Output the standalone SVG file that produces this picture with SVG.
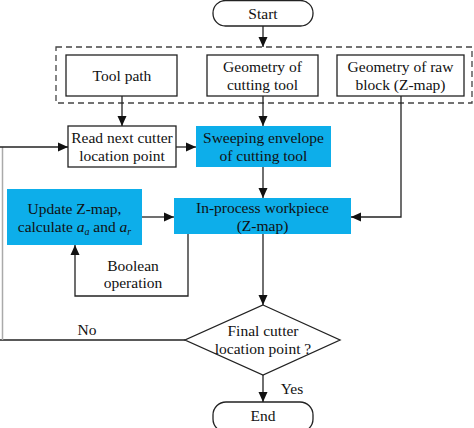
<svg xmlns="http://www.w3.org/2000/svg" width="474" height="428" viewBox="0 0 474 428" font-family="'Liberation Serif', 'DejaVu Serif', serif">
<style>
text{font-family:'Liberation Serif','DejaVu Serif',serif;font-size:15.5px;fill:#111;text-anchor:middle}
.box{fill:#fff;stroke:#222;stroke-width:1.3}
.blue{fill:#0DAEEA;stroke:none}
.ln{fill:none;stroke:#222;stroke-width:1.3}
.gray{fill:none;stroke:#aaa;stroke-width:1.5}
</style>
<defs>
<marker id="ah" viewBox="0 0 10 10" refX="10" refY="5" markerWidth="10" markerHeight="10" markerUnits="userSpaceOnUse" orient="auto">
<path d="M0,0.5 L10,5 L0,9.5 Z" fill="#111"/>
</marker>
</defs>
<rect width="474" height="428" fill="#fff"/>
<g id="inputs">
<rect x="56" y="47" width="416" height="56" fill="none" stroke="#444" stroke-width="1.3" stroke-dasharray="6,4"/>
</g>
<g id="start"><rect class="box" x="213" y="0.5" width="100" height="25.5" rx="12.5"/><text x="263" y="19">Start</text></g>
<g id="toolpath"><rect class="box" x="66" y="55" width="111" height="41"/><text x="122" y="81">Tool path</text></g>
<g id="cuttool"><rect class="box" x="207" y="55" width="111" height="41"/><text x="262.5" y="72">Geometry of</text><text x="262.5" y="90">cutting tool</text></g>
<g id="rawblock"><rect class="box" x="337" y="55" width="127" height="41"/><text x="400.5" y="72">Geometry of raw</text><text x="400.5" y="90">block (Z-map)</text></g>
<g id="readnext"><rect class="box" x="68" y="126" width="108" height="41"/><text x="122" y="143">Read next cutter</text><text x="122" y="161">location point</text></g>
<g id="sweep"><rect class="blue" x="196" y="126" width="135" height="41"/><text x="263.5" y="143">Sweeping envelope</text><text x="263.5" y="161">of cutting tool</text></g>
<g id="update"><rect class="blue" x="7" y="189" width="135" height="56"/><text x="74.5" y="214">Update Z-map,</text><text x="74.5" y="232">calculate <tspan font-style="italic">a</tspan><tspan font-style="italic" font-size="10" dy="3">a</tspan><tspan dy="-3"> and </tspan><tspan font-style="italic">a</tspan><tspan font-style="italic" font-size="10" dy="3">r</tspan></text></g>
<g id="inprocess"><rect class="blue" x="174" y="198" width="177" height="36"/><text x="262.5" y="213">In-process workpiece</text><text x="262.5" y="231">(Z-map)</text></g>
<g id="decision"><polygon class="box" points="263,305 340,340 263,375 185,340"/><text x="263" y="336">Final cutter</text><text x="263" y="354">location point ?</text></g>
<g id="end"><rect class="box" x="213" y="402" width="100" height="30" rx="13"/><text x="263" y="421">End</text></g>
<g id="connectors">
<line class="ln" x1="263" y1="26" x2="263" y2="47" marker-end="url(#ah)"/>
<line class="ln" x1="122" y1="96" x2="122" y2="126" marker-end="url(#ah)"/>
<line class="ln" x1="263" y1="96" x2="263" y2="126" marker-end="url(#ah)"/>
<polyline class="ln" points="401,96 401,217 351,217" marker-end="url(#ah)"/>
<line class="ln" x1="176" y1="147" x2="196" y2="147" marker-end="url(#ah)"/>
<line class="ln" x1="263" y1="167" x2="263" y2="198" marker-end="url(#ah)"/>
<line class="ln" x1="142" y1="217" x2="174" y2="217" marker-end="url(#ah)"/>
<polyline class="ln" points="188,234 188,296 75,296 75,245" marker-end="url(#ah)"/>
<line class="ln" x1="263" y1="234" x2="263" y2="305" marker-end="url(#ah)"/>
<line class="ln" x1="185" y1="340" x2="0" y2="340"/>
<line class="gray" x1="2.5" y1="147" x2="2.5" y2="340"/>
<line class="ln" x1="0" y1="147" x2="68" y2="147" marker-end="url(#ah)"/>
<line class="ln" x1="263" y1="375" x2="263" y2="402" marker-end="url(#ah)"/>
<text x="133" y="271">Boolean</text>
<text x="133" y="288">operation</text>
<text x="87" y="335">No</text>
<text x="292" y="394">Yes</text>
</g>
</svg>
